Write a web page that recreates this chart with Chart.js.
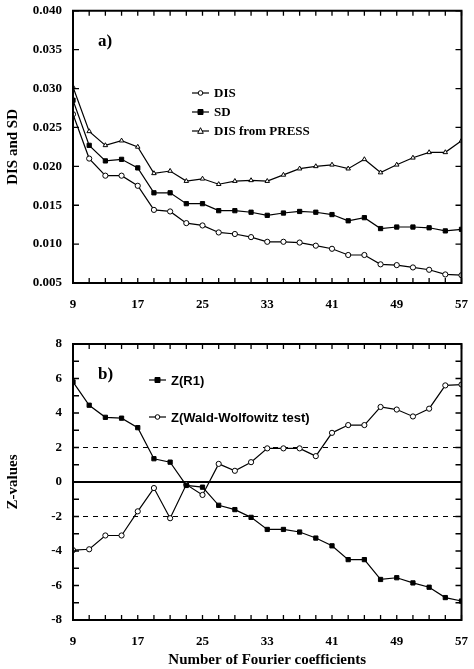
<!DOCTYPE html>
<html><head><meta charset="utf-8">
<script src="https://cdn.jsdelivr.net/npm/chart.js@4/dist/chart.umd.min.js"></script>
<style>
body{margin:0;background:#fff;width:474px;height:669px;overflow:hidden}
.box{position:absolute;left:0;width:474px}
</style></head><body>
<div class="box" style="top:0;height:330px"><canvas id="top"></canvas></div>
<div class="box" style="top:330px;height:339px"><canvas id="bot"></canvas></div>
<script>
const coeffs = [9,11,13,15,17,19,21,23,25,27,29,31,33,35,37,39,41,43,45,47,49,51,53,55,57];
const dis = [0.0267,0.0210,0.0188,0.0188,0.0175,0.0144,0.0142,0.0127,0.0124,0.0115,0.0113,0.0109,0.0103,0.0103,0.0102,0.0098,0.0094,0.0086,0.0086,0.0074,0.0073,0.0070,0.0067,0.0061,0.0060];
const sd = [0.0285,0.0227,0.0207,0.0209,0.0198,0.0166,0.0166,0.0152,0.0152,0.0143,0.0143,0.0141,0.0137,0.0140,0.0142,0.0141,0.0138,0.0130,0.0134,0.0120,0.0122,0.0122,0.0121,0.0117,0.0119];
const disPress = [0.0302,0.0245,0.0227,0.0233,0.0225,0.0191,0.0194,0.0181,0.0184,0.0177,0.0181,0.0182,0.0181,0.0189,0.0197,0.0200,0.0202,0.0197,0.0209,0.0192,0.0202,0.0211,0.0218,0.0218,0.0233];
const zR1 = [5.8,4.45,3.75,3.7,3.15,1.35,1.15,-0.2,-0.3,-1.35,-1.6,-2.05,-2.75,-2.75,-2.9,-3.25,-3.7,-4.5,-4.5,-5.65,-5.55,-5.85,-6.1,-6.7,-6.9];
const zWW = [-3.95,-3.9,-3.1,-3.1,-1.7,-0.35,-2.1,-0.15,-0.75,1.05,0.65,1.15,1.95,1.95,1.95,1.5,2.85,3.3,3.3,4.35,4.2,3.8,4.25,5.6,5.65];
const refLevels = [2,0,-2];

const FONT = '"Liberation Serif", "DejaVu Serif", serif';
const pts = arr => arr.map((v, i) => ({x: coeffs[i], y: v}));

function series(label, data, style, fill) {
  return {label, data: pts(data), borderColor:'#000', borderWidth:1.2, pointStyle:style,
    pointRadius: style==='rect' ? 3 : 2.6, pointBackgroundColor: fill, pointBorderColor:'#000',
    pointBorderWidth:1, tension:0};
}

// inward ticks on all four sides, frame, plus a legend drawn inside the plot
function frame(legend, minor) {
  return {
    id:'frame',
    afterDraw(c) {
      const ctx = c.ctx, a = c.chartArea, xs = c.scales.x, ys = c.scales.y;
      ctx.save();
      ctx.setLineDash([]);
      ctx.strokeStyle = '#000'; ctx.lineWidth = 2;
      ctx.beginPath();
      ctx.rect(a.left, a.top, a.right - a.left, a.bottom - a.top);
      ctx.stroke();
      ctx.lineWidth = 1.3;
      for (let v = xs.min; v <= xs.max; v += 2) {
        const p = xs.getPixelForValue(v);
        ctx.beginPath(); ctx.moveTo(p, a.bottom); ctx.lineTo(p, a.bottom - 5);
        ctx.moveTo(p, a.top); ctx.lineTo(p, a.top + 5); ctx.stroke();
      }
      for (let v = ys.min; v <= ys.max + 1e-9; v += minor) {
        const p = ys.getPixelForValue(v);
        ctx.beginPath(); ctx.moveTo(a.left, p); ctx.lineTo(a.left + 6, p);
        ctx.moveTo(a.right, p); ctx.lineTo(a.right - 6, p); ctx.stroke();
      }
      // panel label and legend
      ctx.fillStyle = '#000';
      ctx.font = 'bold 17px ' + FONT;
      ctx.textBaseline = 'middle';
      ctx.fillText(legend.tag, a.left + 25, legend.tagY);
      ctx.font = legend.font;
      legend.items.forEach((it, i) => {
        const y = legend.y + i * legend.gap, x = legend.x;
        const ds = c.data.datasets[it];
        ctx.lineWidth = 1.2;
        ctx.beginPath(); ctx.moveTo(x, y); ctx.lineTo(x + 17, y); ctx.stroke();
        const r = ds.pointStyle === 'rect' ? 2.5 : 2.3;
        ctx.fillStyle = ds.pointBackgroundColor; ctx.lineWidth = 1;
        ctx.beginPath();
        if (ds.pointStyle === 'rect') ctx.rect(x + 8.5 - r, y - r, 2 * r, 2 * r);
        else if (ds.pointStyle === 'triangle') { ctx.moveTo(x + 8.5, y - r - 1); ctx.lineTo(x + 8.5 + r + 0.5, y + r); ctx.lineTo(x + 8.5 - r - 0.5, y + r); ctx.closePath(); }
        else ctx.arc(x + 8.5, y, r, 0, Math.PI * 2);
        ctx.fill(); ctx.stroke();
        ctx.fillStyle = '#000';
        ctx.fillText(ds.label, x + 22, y + 1);
      });
      ctx.restore();
    }
  };
}

function xAxis(title) {
  return {type:'linear', min:9, max:57, border:{display:true, color:'#000', width:2}, grid:{display:false},
    ticks:{stepSize:8, color:'#000', font:{family:FONT, size:13, weight:'bold'}, padding:6},
    title:{display:!!title, text:title, color:'#000', font:{family:FONT, size:15, weight:'bold'}, padding:{top:10, bottom:0}},
    afterFit(s){ s.height = title ? 49 : 47; }};
}

function yBorder() { return {display:true, color:'#000', width:2}; }

new Chart(document.getElementById('top'), {
  type:'line',
  data:{datasets:[
    series('DIS', dis, 'circle', '#fff'),
    series('SD', sd, 'rect', '#000'),
    series('DIS from PRESS', disPress, 'triangle', '#fff')
  ]},
  options:{responsive:true, maintainAspectRatio:false, animation:false,
    layout:{padding:{top:5, right:7, left:0, bottom:0}},
    plugins:{legend:{display:false}, tooltip:{enabled:false}},
    scales:{x:xAxis(''),
      y:{min:0.005, max:0.04, border:yBorder(), grid:{display:false},
        ticks:{stepSize:0.005, color:'#000', font:{family:FONT, size:13, weight:'bold'}, callback:v=>v.toFixed(3)},
        title:{display:true, text:'DIS and SD', color:'#000', font:{family:FONT, size:15, weight:'bold'}},
        afterFit(s){ s.width = 73; }}}},
  plugins:[frame({tag:'a)', tagY:42, x:192, y:93, gap:19, items:[0,1,2],
    font:'bold 13px ' + FONT}, 0.005)]
});

const refSets = refLevels.map(v => ({label:'ref', data:[{x:9,y:v},{x:57,y:v}], borderColor:'#000',
  borderWidth: v === 0 ? 1.8 : 1, borderDash: v === 0 ? [] : [5,5], pointRadius:0}));

new Chart(document.getElementById('bot'), {
  type:'line',
  data:{datasets:[
    series('Z(R1)', zR1, 'rect', '#000'),
    series('Z(Wald-Wolfowitz test)', zWW, 'circle', '#fff'),
    ...refSets
  ]},
  options:{responsive:true, maintainAspectRatio:false, animation:false,
    layout:{padding:{top:14, right:11, left:0, bottom:0}},
    plugins:{legend:{display:false}, tooltip:{enabled:false}},
    scales:{x:xAxis('Number of Fourier coefficients'),
      y:{min:-8, max:8, border:yBorder(), grid:{display:false},
        ticks:{stepSize:2, color:'#000', font:{family:FONT, size:13, weight:'bold'}},
        title:{display:true, text:'Z-values', color:'#000', font:{family:FONT, size:15, weight:'bold'}},
        afterFit(s){ s.width = 73; }}}},
  plugins:[frame({tag:'b)', tagY:45, x:149, y:50, gap:37, items:[0,1],
    font:'bold 13px "Liberation Sans", Arial, sans-serif'}, 1)]
});
</script>
</body></html>
